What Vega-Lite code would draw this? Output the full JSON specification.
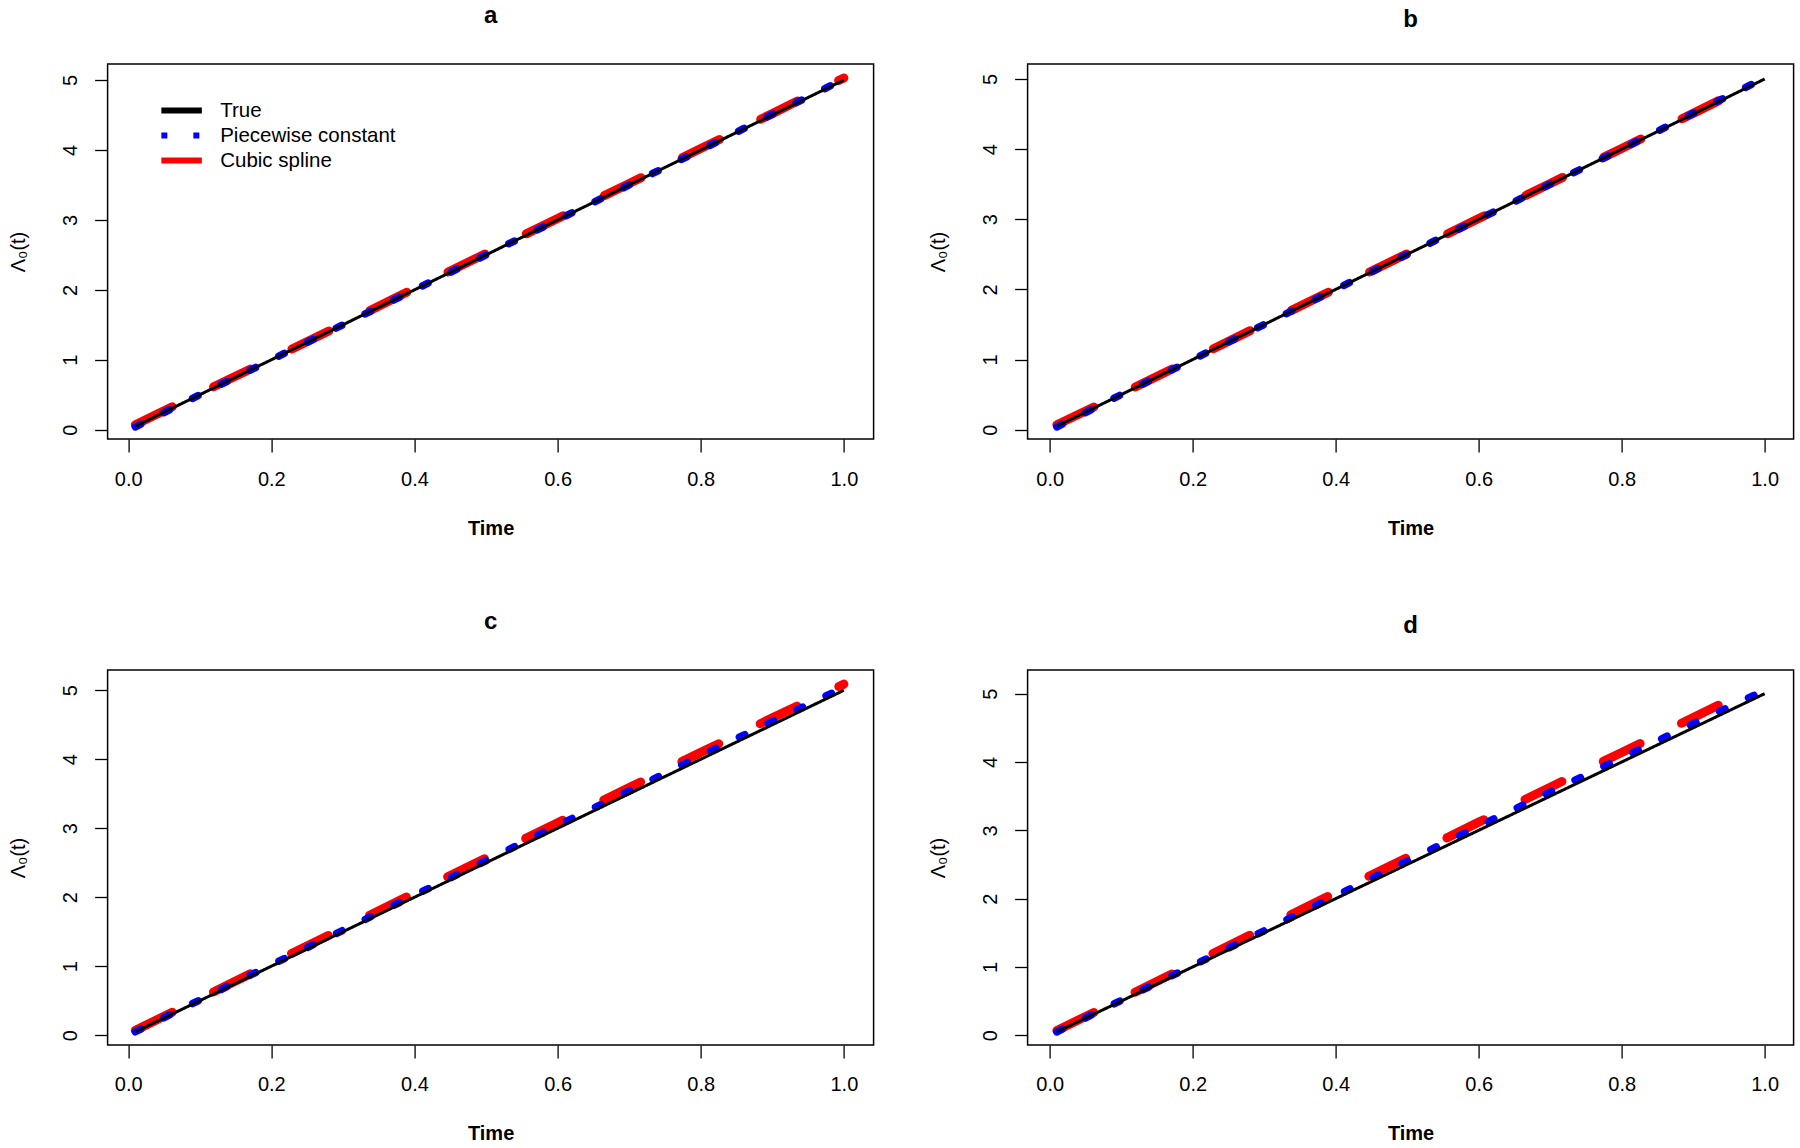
{
  "$schema": "https://vega.github.io/schema/vega-lite/v6.json",
  "padding": {"left": 6.6, "top": 3, "right": 0, "bottom": 0},
  "data": {
    "values": [
      {"panel": "a", "series": "True", "t": 0.01, "value": 0.05},
      {"panel": "a", "series": "True", "t": 0.5, "value": 2.5},
      {"panel": "a", "series": "True", "t": 1.0, "value": 5.0},
      {"panel": "a", "series": "Piecewise constant", "t": 0.01, "value": 0.04},
      {"panel": "a", "series": "Piecewise constant", "t": 0.1, "value": 0.5},
      {"panel": "a", "series": "Piecewise constant", "t": 0.2, "value": 1.0},
      {"panel": "a", "series": "Piecewise constant", "t": 0.3, "value": 1.5},
      {"panel": "a", "series": "Piecewise constant", "t": 0.4, "value": 2.0},
      {"panel": "a", "series": "Piecewise constant", "t": 0.5, "value": 2.5},
      {"panel": "a", "series": "Piecewise constant", "t": 0.6, "value": 3.0},
      {"panel": "a", "series": "Piecewise constant", "t": 0.7, "value": 3.5},
      {"panel": "a", "series": "Piecewise constant", "t": 0.8, "value": 4.0},
      {"panel": "a", "series": "Piecewise constant", "t": 0.9, "value": 4.51},
      {"panel": "a", "series": "Piecewise constant", "t": 1.0, "value": 5.01},
      {"panel": "a", "series": "Cubic spline", "t": 0.01, "value": 0.07},
      {"panel": "a", "series": "Cubic spline", "t": 0.1, "value": 0.52},
      {"panel": "a", "series": "Cubic spline", "t": 0.2, "value": 1.01},
      {"panel": "a", "series": "Cubic spline", "t": 0.3, "value": 1.51},
      {"panel": "a", "series": "Cubic spline", "t": 0.4, "value": 2.02},
      {"panel": "a", "series": "Cubic spline", "t": 0.5, "value": 2.52},
      {"panel": "a", "series": "Cubic spline", "t": 0.6, "value": 3.02},
      {"panel": "a", "series": "Cubic spline", "t": 0.7, "value": 3.52},
      {"panel": "a", "series": "Cubic spline", "t": 0.8, "value": 4.02},
      {"panel": "a", "series": "Cubic spline", "t": 0.9, "value": 4.52},
      {"panel": "a", "series": "Cubic spline", "t": 1.0, "value": 5.03},

      {"panel": "b", "series": "True", "t": 0.01, "value": 0.05},
      {"panel": "b", "series": "True", "t": 0.5, "value": 2.5},
      {"panel": "b", "series": "True", "t": 1.0, "value": 5.0},
      {"panel": "b", "series": "Piecewise constant", "t": 0.01, "value": 0.04},
      {"panel": "b", "series": "Piecewise constant", "t": 0.1, "value": 0.5},
      {"panel": "b", "series": "Piecewise constant", "t": 0.2, "value": 1.0},
      {"panel": "b", "series": "Piecewise constant", "t": 0.3, "value": 1.5},
      {"panel": "b", "series": "Piecewise constant", "t": 0.4, "value": 2.0},
      {"panel": "b", "series": "Piecewise constant", "t": 0.5, "value": 2.5},
      {"panel": "b", "series": "Piecewise constant", "t": 0.6, "value": 3.0},
      {"panel": "b", "series": "Piecewise constant", "t": 0.7, "value": 3.5},
      {"panel": "b", "series": "Piecewise constant", "t": 0.8, "value": 4.0},
      {"panel": "b", "series": "Piecewise constant", "t": 0.9, "value": 4.51},
      {"panel": "b", "series": "Piecewise constant", "t": 0.985, "value": 4.94},
      {"panel": "b", "series": "Cubic spline", "t": 0.01, "value": 0.07},
      {"panel": "b", "series": "Cubic spline", "t": 0.1, "value": 0.51},
      {"panel": "b", "series": "Cubic spline", "t": 0.2, "value": 1.01},
      {"panel": "b", "series": "Cubic spline", "t": 0.3, "value": 1.51},
      {"panel": "b", "series": "Cubic spline", "t": 0.4, "value": 2.01},
      {"panel": "b", "series": "Cubic spline", "t": 0.5, "value": 2.51},
      {"panel": "b", "series": "Cubic spline", "t": 0.6, "value": 3.01},
      {"panel": "b", "series": "Cubic spline", "t": 0.7, "value": 3.51},
      {"panel": "b", "series": "Cubic spline", "t": 0.8, "value": 4.01},
      {"panel": "b", "series": "Cubic spline", "t": 0.9, "value": 4.51},
      {"panel": "b", "series": "Cubic spline", "t": 0.985, "value": 4.94},

      {"panel": "c", "series": "True", "t": 0.01, "value": 0.05},
      {"panel": "c", "series": "True", "t": 0.5, "value": 2.5},
      {"panel": "c", "series": "True", "t": 1.0, "value": 5.0},
      {"panel": "c", "series": "Piecewise constant", "t": 0.01, "value": 0.05},
      {"panel": "c", "series": "Piecewise constant", "t": 0.1, "value": 0.51},
      {"panel": "c", "series": "Piecewise constant", "t": 0.2, "value": 1.02},
      {"panel": "c", "series": "Piecewise constant", "t": 0.3, "value": 1.52},
      {"panel": "c", "series": "Piecewise constant", "t": 0.4, "value": 2.03},
      {"panel": "c", "series": "Piecewise constant", "t": 0.5, "value": 2.53},
      {"panel": "c", "series": "Piecewise constant", "t": 0.6, "value": 3.04},
      {"panel": "c", "series": "Piecewise constant", "t": 0.7, "value": 3.54},
      {"panel": "c", "series": "Piecewise constant", "t": 0.8, "value": 4.05},
      {"panel": "c", "series": "Piecewise constant", "t": 0.9, "value": 4.55},
      {"panel": "c", "series": "Piecewise constant", "t": 1.0, "value": 5.04},
      {"panel": "c", "series": "Cubic spline", "t": 0.01, "value": 0.07},
      {"panel": "c", "series": "Cubic spline", "t": 0.1, "value": 0.53},
      {"panel": "c", "series": "Cubic spline", "t": 0.2, "value": 1.04},
      {"panel": "c", "series": "Cubic spline", "t": 0.3, "value": 1.55},
      {"panel": "c", "series": "Cubic spline", "t": 0.4, "value": 2.06},
      {"panel": "c", "series": "Cubic spline", "t": 0.5, "value": 2.57},
      {"panel": "c", "series": "Cubic spline", "t": 0.6, "value": 3.08},
      {"panel": "c", "series": "Cubic spline", "t": 0.7, "value": 3.59},
      {"panel": "c", "series": "Cubic spline", "t": 0.8, "value": 4.1},
      {"panel": "c", "series": "Cubic spline", "t": 0.9, "value": 4.6},
      {"panel": "c", "series": "Cubic spline", "t": 1.0, "value": 5.09},

      {"panel": "d", "series": "True", "t": 0.01, "value": 0.05},
      {"panel": "d", "series": "True", "t": 0.5, "value": 2.5},
      {"panel": "d", "series": "True", "t": 1.0, "value": 5.0},
      {"panel": "d", "series": "Piecewise constant", "t": 0.01, "value": 0.05},
      {"panel": "d", "series": "Piecewise constant", "t": 0.1, "value": 0.51},
      {"panel": "d", "series": "Piecewise constant", "t": 0.2, "value": 1.02},
      {"panel": "d", "series": "Piecewise constant", "t": 0.3, "value": 1.53},
      {"panel": "d", "series": "Piecewise constant", "t": 0.4, "value": 2.04},
      {"panel": "d", "series": "Piecewise constant", "t": 0.5, "value": 2.55},
      {"panel": "d", "series": "Piecewise constant", "t": 0.6, "value": 3.06},
      {"panel": "d", "series": "Piecewise constant", "t": 0.7, "value": 3.56},
      {"panel": "d", "series": "Piecewise constant", "t": 0.8, "value": 4.06},
      {"panel": "d", "series": "Piecewise constant", "t": 0.9, "value": 4.56},
      {"panel": "d", "series": "Piecewise constant", "t": 1.0, "value": 5.05},
      {"panel": "d", "series": "Cubic spline", "t": 0.01, "value": 0.07},
      {"panel": "d", "series": "Cubic spline", "t": 0.1, "value": 0.53},
      {"panel": "d", "series": "Cubic spline", "t": 0.2, "value": 1.05},
      {"panel": "d", "series": "Cubic spline", "t": 0.3, "value": 1.57},
      {"panel": "d", "series": "Cubic spline", "t": 0.4, "value": 2.09},
      {"panel": "d", "series": "Cubic spline", "t": 0.5, "value": 2.6},
      {"panel": "d", "series": "Cubic spline", "t": 0.6, "value": 3.12},
      {"panel": "d", "series": "Cubic spline", "t": 0.7, "value": 3.63},
      {"panel": "d", "series": "Cubic spline", "t": 0.8, "value": 4.14},
      {"panel": "d", "series": "Cubic spline", "t": 0.9, "value": 4.65},
      {"panel": "d", "series": "Cubic spline", "t": 0.985, "value": 5.09}
    ]
  },
  "columns": 2,
  "bounds": "flush",
  "spacing": {"row": 231, "column": 154},
  "concat": [
    {
      "width": 766,
      "height": 375,
      "title": "a",
      "transform": [{"filter": "datum.panel == 'a'"}],
      "encoding": {
        "x": {"field": "t", "type": "quantitative", "title": "Time",
          "scale": {"domain": [-0.0288, 1.0415], "nice": false, "zero": false},
          "axis": {"values": [0, 0.2, 0.4, 0.6, 0.8, 1], "format": ".1f", "labelAngle": 0, "labelPadding": 17, "titleFontWeight": "bold", "titlePadding": 29}},
        "y": {"field": "value", "type": "quantitative", "title": "Λ₀(t)",
          "scale": {"domain": [-0.133, 5.229], "nice": false, "zero": false},
          "axis": {"values": [0, 1, 2, 3, 4, 5], "format": "d", "labelAngle": 270, "labelAlign": "center", "labelBaseline": "bottom", "labelPadding": 14.5, "titleFontWeight": "normal", "titlePadding": 32}},
        "color": {"field": "series", "type": "nominal",
          "scale": {"domain": ["True", "Piecewise constant", "Cubic spline"], "range": ["#000000", "#0000ff", "#ff0000"]},
          "legend": {"orient": "none", "legendX": 62, "legendY": 34.6, "title": null}},
        "strokeDash": {"field": "series", "type": "nominal",
          "scale": {"domain": ["True", "Piecewise constant", "Cubic spline"], "range": [[1, 0], [6, 26], [41, 46]]},
          "legend": {"orient": "none", "legendX": 62, "legendY": 34.6, "title": null}}
      },
      "layer": [
        {"transform": [{"filter": "datum.series == 'Cubic spline'"}], "mark": {"type": "line", "strokeWidth": 9, "strokeCap": "round"}},
        {"transform": [{"filter": "datum.series == 'Piecewise constant'"}], "mark": {"type": "line", "strokeWidth": 7.5, "strokeCap": "round"}},
        {"transform": [{"filter": "datum.series == 'True'"}], "mark": {"type": "line", "strokeWidth": 3}}
      ]
    },
    {
      "width": 766,
      "height": 375,
      "title": "b",
      "transform": [{"filter": "datum.panel == 'b'"}],
      "encoding": {
        "x": {"field": "t", "type": "quantitative", "title": "Time",
          "scale": {"domain": [-0.031, 1.0405], "nice": false, "zero": false},
          "axis": {"values": [0, 0.2, 0.4, 0.6, 0.8, 1], "format": ".1f", "labelAngle": 0, "labelPadding": 17, "titleFontWeight": "bold", "titlePadding": 29}},
        "y": {"field": "value", "type": "quantitative", "title": "Λ₀(t)",
          "scale": {"domain": [-0.133, 5.214], "nice": false, "zero": false},
          "axis": {"values": [0, 1, 2, 3, 4, 5], "format": "d", "labelAngle": 270, "labelAlign": "center", "labelBaseline": "bottom", "labelPadding": 14.5, "titleFontWeight": "normal", "titlePadding": 32}},
        "color": {"field": "series", "type": "nominal",
          "scale": {"domain": ["True", "Piecewise constant", "Cubic spline"], "range": ["#000000", "#0000ff", "#ff0000"]},
          "legend": null},
        "strokeDash": {"field": "series", "type": "nominal",
          "scale": {"domain": ["True", "Piecewise constant", "Cubic spline"], "range": [[1, 0], [6, 26], [41, 46]]},
          "legend": null}
      },
      "layer": [
        {"transform": [{"filter": "datum.series == 'Cubic spline'"}], "mark": {"type": "line", "strokeWidth": 9, "strokeCap": "round"}},
        {"transform": [{"filter": "datum.series == 'Piecewise constant'"}], "mark": {"type": "line", "strokeWidth": 7.5, "strokeCap": "round"}},
        {"transform": [{"filter": "datum.series == 'True'"}], "mark": {"type": "line", "strokeWidth": 3}}
      ]
    },
    {
      "width": 766,
      "height": 375,
      "title": "c",
      "transform": [{"filter": "datum.panel == 'c'"}],
      "encoding": {
        "x": {"field": "t", "type": "quantitative", "title": "Time",
          "scale": {"domain": [-0.0288, 1.0415], "nice": false, "zero": false},
          "axis": {"values": [0, 0.2, 0.4, 0.6, 0.8, 1], "format": ".1f", "labelAngle": 0, "labelPadding": 17, "titleFontWeight": "bold", "titlePadding": 29}},
        "y": {"field": "value", "type": "quantitative", "title": "Λ₀(t)",
          "scale": {"domain": [-0.142, 5.294], "nice": false, "zero": false},
          "axis": {"values": [0, 1, 2, 3, 4, 5], "format": "d", "labelAngle": 270, "labelAlign": "center", "labelBaseline": "bottom", "labelPadding": 14.5, "titleFontWeight": "normal", "titlePadding": 32}},
        "color": {"field": "series", "type": "nominal",
          "scale": {"domain": ["True", "Piecewise constant", "Cubic spline"], "range": ["#000000", "#0000ff", "#ff0000"]},
          "legend": null},
        "strokeDash": {"field": "series", "type": "nominal",
          "scale": {"domain": ["True", "Piecewise constant", "Cubic spline"], "range": [[1, 0], [6, 26], [41, 46]]},
          "legend": null}
      },
      "layer": [
        {"transform": [{"filter": "datum.series == 'Cubic spline'"}], "mark": {"type": "line", "strokeWidth": 9, "strokeCap": "round"}},
        {"transform": [{"filter": "datum.series == 'Piecewise constant'"}], "mark": {"type": "line", "strokeWidth": 7.5, "strokeCap": "round"}},
        {"transform": [{"filter": "datum.series == 'True'"}], "mark": {"type": "line", "strokeWidth": 3}}
      ]
    },
    {
      "width": 766,
      "height": 375,
      "title": "d",
      "transform": [{"filter": "datum.panel == 'd'"}],
      "encoding": {
        "x": {"field": "t", "type": "quantitative", "title": "Time",
          "scale": {"domain": [-0.031, 1.0405], "nice": false, "zero": false},
          "axis": {"values": [0, 0.2, 0.4, 0.6, 0.8, 1], "format": ".1f", "labelAngle": 0, "labelPadding": 17, "titleFontWeight": "bold", "titlePadding": 29}},
        "y": {"field": "value", "type": "quantitative", "title": "Λ₀(t)",
          "scale": {"domain": [-0.143, 5.347], "nice": false, "zero": false},
          "axis": {"values": [0, 1, 2, 3, 4, 5], "format": "d", "labelAngle": 270, "labelAlign": "center", "labelBaseline": "bottom", "labelPadding": 14.5, "titleFontWeight": "normal", "titlePadding": 32}},
        "color": {"field": "series", "type": "nominal",
          "scale": {"domain": ["True", "Piecewise constant", "Cubic spline"], "range": ["#000000", "#0000ff", "#ff0000"]},
          "legend": null},
        "strokeDash": {"field": "series", "type": "nominal",
          "scale": {"domain": ["True", "Piecewise constant", "Cubic spline"], "range": [[1, 0], [6, 26], [41, 46]]},
          "legend": null}
      },
      "layer": [
        {"transform": [{"filter": "datum.series == 'Cubic spline'"}], "mark": {"type": "line", "strokeWidth": 9, "strokeCap": "round"}},
        {"transform": [{"filter": "datum.series == 'Piecewise constant'"}], "mark": {"type": "line", "strokeWidth": 7.5, "strokeCap": "round"}},
        {"transform": [{"filter": "datum.series == 'True'"}], "mark": {"type": "line", "strokeWidth": 3}}
      ]
    }
  ],
  "resolve": {
    "scale": {"x": "independent", "y": "independent"},
    "legend": {"color": "independent", "strokeDash": "independent"}
  },
  "config": {
    "view": {"stroke": "#000000", "strokeWidth": 1.5},
    "font": "Liberation Sans",
    "title": {"fontSize": 24, "fontWeight": "bold", "color": "#000000", "anchor": "middle", "frame": "group", "offset": 32},
    "axis": {
      "domain": false, "grid": false,
      "tickColor": "#000000", "tickSize": 13, "tickWidth": 1.3,
      "labelFont": "Liberation Sans", "labelFontSize": 20, "labelColor": "#000000", "labelFlush": false, "labelOverlap": false,
      "titleFont": "Liberation Sans, DejaVu Sans", "titleFontSize": 20, "titleColor": "#000000"
    },
    "legend": {
      "padding": 0, "offset": 0,
      "symbolType": "M-2.25,0H2.25", "symbolSize": 324, "symbolStrokeWidth": 6,
      "labelFont": "Liberation Sans", "labelFontSize": 20.5, "labelColor": "#000000", "labelOffset": 26.6, "labelLimit": 0,
      "rowPadding": 1
    }
  }
}
